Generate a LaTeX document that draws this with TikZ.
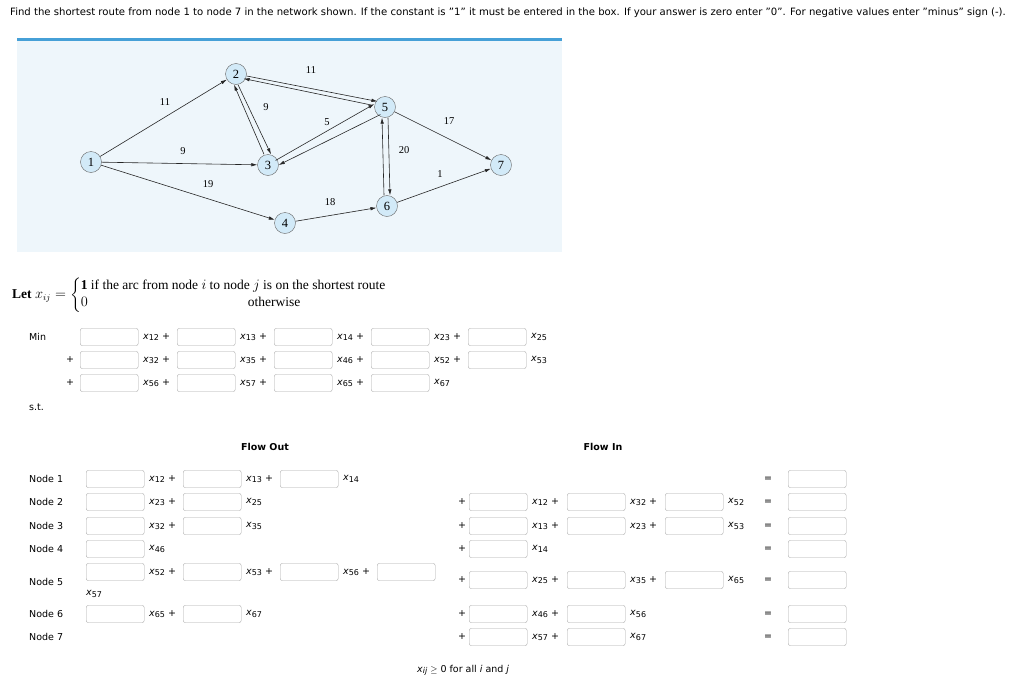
\documentclass[tikz,border=0pt]{standalone}
\usepackage{fontspec}
\usepackage{amsmath}
\setmainfont{DejaVu Sans}
\newfontfamily\serif{Liberation Serif}
\usetikzlibrary{arrows.meta}
\definecolor{panel}{RGB}{238,246,251}
\definecolor{topbar}{RGB}{70,160,215}
\definecolor{nodefill}{RGB}{210,234,248}
\newcommand\xv[1]{\textit{x}\raisebox{-1.4pt}{\fontsize{8}{9}\selectfont #1}}
\newcommand\qt[1]{\char34\relax #1\char34\relax}
\begin{document}
\begin{tikzpicture}[x=1pt,y=-1pt,
  every node/.style={font=\fontsize{9.5}{11}\selectfont},
  box/.style={draw=gray!70, rounded corners=2pt, minimum width=58pt, minimum height=17pt, anchor=west, inner sep=0pt},
  lbl/.style={anchor=west, inner sep=0pt},
  net/.style={circle, draw=gray!80!black, fill=nodefill, minimum size=21pt, inner sep=0pt, font=\serif\fontsize{12.5}{13}\selectfont},
  arc/.style={-{Latex[length=6pt,width=3.5pt]}, draw=black!85, line width=0.6pt},
  wt/.style={font=\serif\fontsize{10.5}{11}\selectfont, inner sep=0pt}]
\useasboundingbox (0,0) rectangle (1024,688);
\node[lbl, font=\fontsize{10.1}{11}\selectfont] (title) at (10,13) {Find the shortest route from node 1 to node 7 in the network shown. If the constant is \qt{1} it must be entered in the box. If your answer is zero enter \qt{0}. For negative values enter \qt{minus} sign (-).};
% network panel
\fill[panel] (17,40) rectangle (562,252);
\draw[topbar, line width=3pt] (17,39) -- (562,39);
\draw[line width=1.5pt] (-4,212) arc[start angle=-60, end angle=60, radius=-14];
\node[net] (n1) at (91,162) {1};
\node[net] (n2) at (236,74) {2};
\node[net] (n3) at (268,165) {3};
\node[net] (n4) at (285,223) {4};
\node[net] (n5) at (385,107) {5};
\node[net] (n6) at (387,206) {6};
\node[net] (n7) at (501,165) {7};
\draw[arc] (n1) -- (n2);
\draw[arc] (n1) -- (n3);
\draw[arc] (n1) -- (n4);
\draw[arc] ([yshift=-2pt]n2.east) -- ([yshift=-2pt]n5.north west);
\draw[arc] ([xshift=-3pt,yshift=2pt]n5.west) -- ([yshift=3pt]n2.south east);
\draw[arc] ([xshift=2pt]n2.south) -- ([xshift=3pt]n3.north);
\draw[arc] ([xshift=-4pt]n3.north) -- ([xshift=-2pt]n2.south);
\draw[arc] ([yshift=-3pt]n3.north east) -- ([yshift=3pt]n5.west);
\draw[arc] ([xshift=3pt]n5.south west) -- (n3.east);
\draw[arc] (n4) -- (n6);
\draw[arc] ([xshift=3pt]n5.south) -- ([xshift=3pt]n6.north);
\draw[arc] ([xshift=-3pt]n6.north) -- ([xshift=-3pt]n5.south);
\draw[arc] (n5) -- (n7);
\draw[arc] (n6) -- (n7);
\node[wt] (w12) at (165,102) {11};
\node[wt] (w25) at (311,70) {11};
\node[wt] (w23) at (266,107) {9};
\node[wt] (w13) at (183,151) {9};
\node[wt] (w35) at (327,122) {5};
\node[wt] (w14) at (208,184) {19};
\node[wt] (w46) at (330,202) {18};
\node[wt] (w56) at (404,150) {20};
\node[wt] (w57) at (449,121) {17};
\node[wt] (w67) at (440,174) {1};
% definition
\node[lbl, font=\serif\fontsize{13.5}{14}\selectfont] (def) at (12,295) {\textbf{Let} $x_{ij}=\begin{cases}\text{\textbf{1} if the arc from node $i$ to node $j$ is on the shortest route}\\ 0 \hspace{160pt}\text{otherwise}\end{cases}$};
% objective
\node[lbl] (min) at (29,337) {Min};
\node[lbl] (p2) at (66,360) {+};
\node[lbl] (p3) at (66,383) {+};
\node[lbl] (st) at (29,407) {s.t.};
\foreach \r/\yy/\vars in {a/337/{12/+,13/+,14/+,23/+,25/},b/360/{32/+,35/+,46/+,52/+,53/},c/383/{56/+,57/+,65/+,67/}}{
  \foreach \v/\p [count=\k] in \vars {
    \pgfmathsetmacro\xx{80+(\k-1)*97}
    \node[box] (o\r\k) at (\xx,\yy) {};
    \node[lbl] (ol\r\k) at (\xx+63,\yy) {\xv{\v} \p};
  }
}
% constraints
\node[font=\bfseries\fontsize{9.5}{11}\selectfont] (fo) at (265,447) {Flow Out};
\node[font=\bfseries\fontsize{9.5}{11}\selectfont] (fi) at (603,447) {Flow In};
\foreach \n/\yy in {1/479,2/502,3/526,4/549,5/582,6/614,7/637}
  \node[lbl] (nd\n) at (29,\yy) {Node \n};
\foreach \r/\yy/\vars in {1/479/{12/+,13/+,14/},2/502/{23/+,25/},3/526/{32/+,35/},4/549/{46/},5/572/{52/+,53/+,56/+},6/614/{65/+,67/}}{
  \foreach \v/\p [count=\k] in \vars {
    \pgfmathsetmacro\xx{86+(\k-1)*97}
    \node[box] (fo\r\k) at (\xx,\yy) {};
    \node[lbl] (fol\r\k) at (\xx+63,\yy) {\xv{\v} \p};
  }
}
\node[box] (fo54) at (377,572) {};
\node[lbl] (x57) at (86,594) {\xv{57}};
% flow in rows
\foreach \r/\yy/\vars in {2/502/{12/+,32/+,52/},3/526/{13/+,23/+,53/},4/549/{14/},5/580/{25/+,35/+,65/},6/614/{46/+,56/},7/637/{57/+,67/}}{
  \node[lbl] (pl\r) at (458,\yy) {+};
  \foreach \v/\p [count=\k] in \vars {
    \pgfmathsetmacro\xx{469+(\k-1)*98}
    \ifnum\k<3 \node[box] (fi\r\k) at (\xx,\yy) {};\fi
    \node[lbl] (fil\r\k) at (\xx+63,\yy) {\xv{\v} \p};
  }
}
\node[box] (fi23) at (665,502) {};
\node[box] (fi33) at (665,526) {};
\node[box] (fi53) at (665,580) {};
\foreach \r/\yy in {1/479,2/502,3/526,4/549,5/580,6/614,7/637}{
  \node[lbl] (eq\r) at (764,\yy) {=};
  \node[box] (rhs\r) at (788,\yy) {};
}
\node[lbl] (nn) at (417,670) {\xv{\textit{ij}} $\geq$ 0 for all \textit{i} and \textit{j}};
\end{tikzpicture}
\end{document}
